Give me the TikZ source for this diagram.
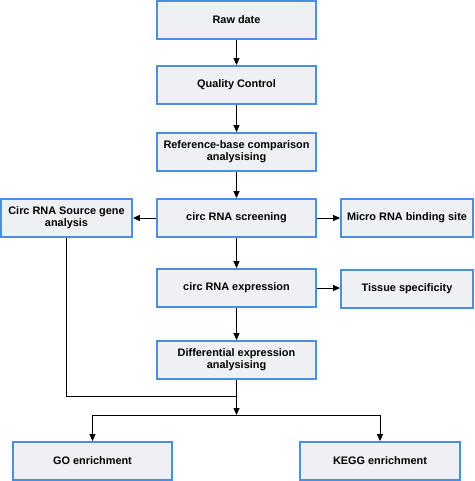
\documentclass[tikz,border=0pt]{standalone}
\usepackage{fontspec}
\setmainfont{Liberation Sans}
\usetikzlibrary{arrows.meta}
\definecolor{boxblue}{HTML}{4A8FE3}
\definecolor{boxfill}{HTML}{EFF0F4}
\tikzset{
  stepbox/.style={draw=boxblue, line width=1.8pt, fill=boxfill, rectangle,
    minimum height=38pt, inner sep=0pt, align=center,
    font=\fontsize{10.9pt}{12.3pt}\selectfont\bfseries},
  arr/.style={-{Triangle[length=7pt,width=6pt]}, line width=1pt, black},
  ln/.style={line width=1pt, black}
}
\begin{document}
\begin{tikzpicture}[x=1pt,y=-1pt]
\useasboundingbox (0,0) rectangle (474,481);
\node[stepbox, minimum width=159pt] (raw) at (236.5,20) {Raw date};
\node[stepbox, minimum width=159pt] (qc) at (236.5,85) {Quality Control};
\node[stepbox, minimum width=159pt] (ref) at (236.5,152) {Reference-base comparison\\analysising};
\node[stepbox, minimum width=159pt] (scr) at (236.5,218) {circ RNA screening};
\node[stepbox, minimum width=131pt] (src) at (66.5,218) {Circ RNA Source gene\\analysis};
\node[stepbox, minimum width=132pt] (mir) at (407,218) {Micro RNA binding site};
\node[stepbox, minimum width=159pt] (exp) at (236.5,288) {circ RNA expression};
\node[stepbox, minimum width=132pt] (tis) at (407,289) {Tissue specificity};
\node[stepbox, minimum width=159pt] (dif) at (236.5,360) {Differential expression\\analysising};
\node[stepbox, minimum width=159pt] (go) at (92.5,461) {GO enrichment};
\node[stepbox, minimum width=160pt] (kegg) at (380,461) {KEGG enrichment};
\coordinate (j1) at (236.5,396);
\coordinate (h) at (236.5,415);
\draw[arr] (raw) -- (qc);
\draw[arr] (qc) -- (ref);
\draw[arr] (ref) -- (scr);
\draw[arr] (scr) -- (src);
\draw[arr] (scr) -- (mir);
\draw[arr] (scr) -- (exp);
\draw[arr] (exp) -- (tis.west |- exp.east);
\draw[arr] (exp) -- (dif);
\draw[ln] (src.south) |- (j1);
\draw[arr] (dif.south) -- (h);
\draw[arr] (h) -| (go.north);
\draw[arr] (h) -| (kegg.north);
\end{tikzpicture}
\end{document}
